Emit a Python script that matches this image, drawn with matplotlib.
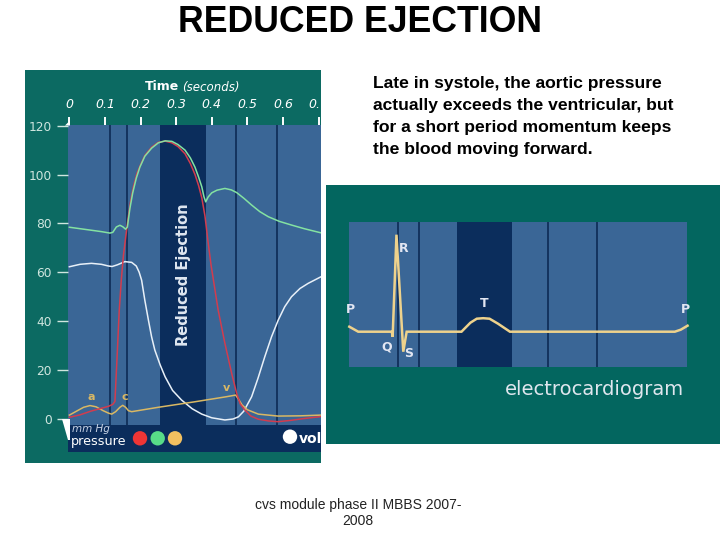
import matplotlib
matplotlib.use('Agg')
import matplotlib.pyplot as plt
from matplotlib.patches import Rectangle, Ellipse, Polygon

W, H = 720, 540

# ---------------- data ----------------
time_ticks = [0, 0.1, 0.2, 0.3, 0.4, 0.5, 0.6, 0.7]
time_tick_labels = ['0', '0.1', '0.2', '0.3', '0.4', '0.5', '0.6', '0.7']
pressure_ticks = [0, 20, 40, 60, 80, 100, 120]
pressure_tick_labels = ['0', '20', '40', '60', '80', '100', '120']
phase_lines = [0.114, 0.163, 0.467, 0.584]
reduced_ejection = (0.254, 0.383)

aortic_t = [0.000, 0.030, 0.060, 0.090, 0.114, 0.122, 0.132, 0.142, 0.150, 0.158,
            0.163, 0.170, 0.178, 0.188, 0.198, 0.212, 0.231, 0.250, 0.269, 0.288,
            0.305, 0.325, 0.340, 0.353, 0.363, 0.372, 0.378, 0.383, 0.390, 0.400,
            0.415, 0.437, 0.455, 0.470, 0.490, 0.512, 0.535, 0.559, 0.590, 0.624,
            0.660, 0.707]
aortic_p = [78.4, 77.8, 77.2, 76.6, 76.0, 76.3, 78.5, 79.2, 78.6, 77.6,
            78.5, 86.0, 92.5, 98.5, 103.0, 107.5, 110.8, 113.0, 113.8, 113.6,
            112.3, 110.0, 106.8, 103.0, 99.0, 95.0, 91.0, 88.8, 90.8, 92.5,
            93.6, 94.3, 93.7, 92.6, 90.3, 87.5, 84.8, 82.7, 80.8, 79.3,
            77.8, 76.1]

ventricle_t = [0.000, 0.030, 0.060, 0.090, 0.110, 0.122, 0.128, 0.134, 0.140, 0.146,
               0.152, 0.158, 0.165, 0.172, 0.180, 0.190, 0.200, 0.212, 0.231, 0.250,
               0.269, 0.288, 0.305, 0.325, 0.340, 0.353, 0.363, 0.372, 0.381, 0.390,
               0.398, 0.418, 0.437, 0.456, 0.470, 0.480, 0.493, 0.510, 0.531, 0.560,
               0.586, 0.620, 0.660, 0.707]
ventricle_p = [0.5, 1.5, 3.0, 4.2, 5.0, 5.8, 7.0, 25.0, 44.0, 57.0,
               67.0, 74.0, 82.0, 89.0, 95.0, 100.5, 104.0, 107.8, 111.2, 113.2,
               113.7, 113.0, 111.5, 108.5, 104.5, 100.0, 95.5, 90.5, 83.0, 72.0,
               63.0, 44.5, 30.8, 18.5, 10.3, 6.0, 3.5, 1.0, -0.3, -1.0,
               -1.3, -0.8, 0.0, 0.8]

atrium_t = [0.000, 0.020, 0.040, 0.058, 0.075, 0.095, 0.110, 0.119, 0.130, 0.142,
            0.150, 0.158, 0.166, 0.175, 0.250, 0.350, 0.440, 0.467, 0.475, 0.485,
            0.500, 0.531, 0.586, 0.650, 0.707]
atrium_p = [1.4, 3.0, 4.6, 5.3, 4.8, 3.2, 2.2, 1.8, 2.8, 4.6,
            5.4, 4.6, 3.2, 2.8, 4.6, 6.8, 8.9, 9.6, 8.0, 5.6,
            3.6, 1.8, 1.0, 1.1, 1.4]

volume_t = [0.000, 0.030, 0.062, 0.090, 0.110, 0.120, 0.135, 0.156, 0.175, 0.188,
            0.196, 0.203, 0.212, 0.222, 0.231, 0.240, 0.255, 0.269, 0.290, 0.315,
            0.345, 0.372, 0.400, 0.437, 0.460, 0.475, 0.490, 0.512, 0.530, 0.549,
            0.568, 0.587, 0.605, 0.624, 0.648, 0.671, 0.707]
volume_v = [62.2, 63.2, 63.6, 63.2, 62.5, 62.3, 63.0, 64.3, 64.0, 62.5,
            60.0, 56.7, 48.5, 40.4, 33.5, 28.1, 22.0, 17.1, 11.5, 7.6,
            4.0, 1.8, 0.3, -0.6, -0.2, 0.7, 3.0, 8.9, 16.5, 25.3,
            33.5, 40.4, 45.8, 49.9, 53.3, 55.4, 58.1]

wave_labels = ['a', 'c', 'v']
wave_t = [0.062, 0.156, 0.440]
wave_p = [8.9, 8.9, 12.5]

ecg_t = [0.000, 0.021, 0.100, 0.102, 0.111, 0.127, 0.135, 0.264, 0.285, 0.300,
         0.315, 0.330, 0.350, 0.378, 0.766, 0.780, 0.796]
ecg_v = [0.5, 0.0, 0.0, -0.5, 9.7, -2.0, 0.0, 0.0, 0.9, 1.3,
         1.35, 1.3, 0.8, 0.0, 0.0, 0.2, 0.6]
ecg_labels = ['P', 'Q', 'R', 'S', 'T', 'P']
ecg_label_t = [0.003, 0.088, 0.129, 0.140, 0.318, 0.792]
ecg_label_v = [2.2, -1.5, 8.3, -2.2, 2.8, 2.2]

text_lines = ['Late in systole, the aortic pressure',
              'actually exceeds the ventricular, but',
              'for a short period momentum keeps',
              'the blood moving forward.']

# ---------------- styles ----------------
TEAL = '#0c6a62'
TEAL2 = '#03665f'
BLUE = '#3a6696'
NAVY = '#0b2d5c'
LINE = '#0d2a55'
C_AORTA = '#84e2a2'
C_VENT = '#d23c4e'
C_ATR = '#d9b864'
C_VOL = '#e8f0f8'
TICKC = '#cfe6df'


def fx(x):
    return x / W


def fy(y):
    return 1 - y / H


fig = plt.figure(figsize=(7.2, 5.4), dpi=100)
fig.patch.set_facecolor('white')


def rect(x0, y0, x1, y1, color, z=-5):
    fig.add_artist(Rectangle((fx(x0), fy(y1)), fx(x1) - fx(x0), fy(y0) - fy(y1),
                             transform=fig.transFigure, facecolor=color,
                             edgecolor='none', zorder=z))


def dot(x, y, r, color):
    fig.add_artist(Ellipse((fx(x), fy(y)), 2 * r / W, 2 * r / H,
                           transform=fig.transFigure, facecolor=color,
                           edgecolor='none', zorder=4))


# panels
rect(25, 70, 321, 463, TEAL)
rect(68.3, 423, 321, 452, NAVY, z=-4)
rect(326, 185, 720, 444, TEAL2)

# title and texts
fig.text(fx(360.5), fy(31.7), 'REDUCED EJECTION', ha='center', va='baseline',
         fontsize=25.7, fontweight='bold', family='Liberation Sans', color='black')
for i, line in enumerate(text_lines):
    fig.text(fx(373), fy(87.7 + 22 * i), line, ha='left', va='baseline',
             fontsize=12.6, fontweight='bold', family='Liberation Sans', color='black')
fig.text(fx(358), fy(509), 'cvs module phase II MBBS 2007-', ha='center', va='baseline',
         fontsize=10, family='Liberation Sans', color='#222222')
fig.text(fx(358), fy(525), '2008', ha='center', va='baseline',
         fontsize=10, family='Liberation Sans', color='#222222')

# ---------------- pressure chart ----------------
ax = fig.add_axes([fx(68.3), fy(425), fx(321) - fx(68.3), fy(125) - fy(425)])
ax.set_facecolor(BLUE)
ax.set_xlim(-0.003, 0.707)
ax.set_ylim(-2.66, 120.3)
for s in ax.spines.values():
    s.set_visible(False)
ax.axvspan(*reduced_ejection, color=NAVY, lw=0, zorder=1)
for t in phase_lines:
    ax.axvline(t, color=LINE, lw=1.2, zorder=1.5)

ax.plot(volume_t, volume_v, color=C_VOL, lw=1.1, zorder=3)
ax.plot(atrium_t, atrium_p, color=C_ATR, lw=1.1, zorder=3.2)
ax.plot(ventricle_t, ventricle_p, color=C_VENT, lw=1.1, zorder=3.4)
ax.plot(aortic_t, aortic_p, color=C_AORTA, lw=1.1, zorder=3.6)
for lab, t, p in zip(wave_labels, wave_t, wave_p):
    ax.text(t, p, lab, color=C_ATR, fontsize=8, fontweight='bold',
            ha='center', va='center', zorder=4)
ax.text(0.322, 58.8, 'Reduced Ejection', rotation=90, ha='center', va='center',
        color='#dfe7f1', fontsize=10.5, fontweight='bold', zorder=4)

ax.xaxis.tick_top()
ax.set_xticks(time_ticks)
ax.set_xticklabels(time_tick_labels, fontstyle='italic', fontsize=9, color='white')
ax.tick_params(axis='x', direction='out', length=6, width=1.4, color='white', pad=4)
ax.set_yticks(pressure_ticks)
ax.set_yticklabels(pressure_tick_labels, fontsize=8.8, color=TICKC)
ax.tick_params(axis='y', direction='out', length=8, width=1, color=TICKC, pad=4)

fig.text(fx(145), fy(87), 'Time', fontsize=9, fontweight='bold', color='white',
         ha='left', va='center')
fig.text(fx(182), fy(87), '(seconds)', fontsize=8.5, fontstyle='italic', color='white',
         ha='left', va='center')

# decorations on axis
fig.add_artist(Polygon([(fx(62), fy(419)), (fx(70), fy(419)), (fx(70), fy(440)), (fx(68), fy(440))],
                       closed=True, transform=fig.transFigure, facecolor='white',
                       edgecolor='none', zorder=4))
fig.add_artist(Polygon([(fx(65), fy(125.5)), (fx(70), fy(120.5)), (fx(70), fy(125.5))],
                       closed=True, transform=fig.transFigure, facecolor='white',
                       edgecolor='none', zorder=4))

# legend strip
fig.text(fx(72), fy(429.5), 'mm Hg', fontsize=7.5, fontstyle='italic', color='#c8d4e6',
         ha='left', va='center')
fig.text(fx(70.5), fy(441), 'pressure', fontsize=9.2, color='white', ha='left', va='center')
dot(140, 438.3, 7.2, '#ee3535')
dot(157.7, 438.3, 7.2, '#58dc88')
dot(175, 438.3, 7.2, '#f2c060')
dot(290, 436.7, 7.2, 'white')
fig.text(fx(299), fy(439), 'vol', fontsize=10, fontweight='bold', color='white',
         ha='left', va='center')

# ---------------- ECG ----------------
ae = fig.add_axes([fx(349.3), fy(366.7), fx(686.7) - fx(349.3), fy(222.3) - fy(366.7)])
ae.set_facecolor(BLUE)
ae.set_xlim(0, 0.794)
ae.set_ylim(-3.5, 10.94)
for s in ae.spines.values():
    s.set_visible(False)
ae.set_xticks([])
ae.set_yticks([])
ae.axvspan(*reduced_ejection, color=NAVY, lw=0, zorder=1)
for t in phase_lines:
    ae.axvline(t, color=LINE, lw=1.2, zorder=1.5)
ae.plot(ecg_t, ecg_v, color='#eed28c', lw=1.8, zorder=3, clip_on=False,
        solid_joinstyle='miter')
for lab, t, v in zip(ecg_labels, ecg_label_t, ecg_label_v):
    ae.text(t, v, lab, color='#e2e6f2', fontsize=9, fontweight='bold',
            ha='center', va='center', zorder=4, clip_on=False)

fig.text(fx(505), fy(395), 'electrocardiogram', fontsize=14, color='#dfe6ee',
         ha='left', va='baseline')

fig.savefig('out.png', dpi=100)
